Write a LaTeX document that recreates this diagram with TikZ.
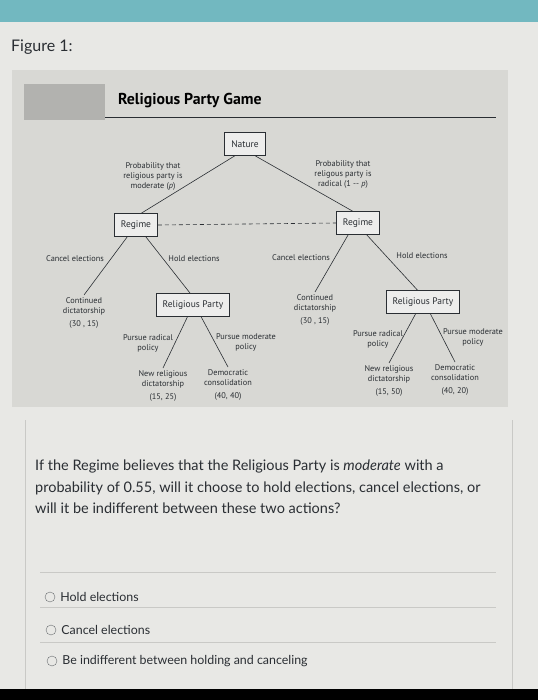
\documentclass[tikz,border=0pt]{standalone}
\usepackage{fontspec}
\setmainfont{Lato}
\newfontfamily\treefont{PT Sans}
\usepackage{tikz}
\usetikzlibrary{positioning,calc}
\definecolor{pagegrey}{HTML}{E8E8E5}
\definecolor{panelgrey}{HTML}{D8D8D4}
\definecolor{tabgrey}{HTML}{B2B2AF}
\definecolor{topteal}{HTML}{72B8C0}
\definecolor{inkgrey}{HTML}{2A2E33}
\definecolor{rulegrey}{HTML}{C9C9C6}

\begin{document}
\begin{tikzpicture} [x=1pt, y=-1pt, every node/.style = {inner sep=0pt, text=inkgrey}]
        \tikzstyle{player}=[draw=inkgrey, thick, fill=panelgrey!45!white, inner xsep=6.5pt, minimum height=23pt, font=\treefont\fontsize{9.5}{11}\selectfont]
        \tikzstyle{move}=[align=center, font=\treefont\fontsize{8.3}{10}\selectfont]
        \tikzstyle{outcome}=[align=center, inner sep=2pt, font=\treefont\fontsize{8.3}{10}\selectfont]
        \tikzstyle{branch}=[draw=inkgrey, semithick]
        \tikzstyle{option}=[anchor=west, font=\fontsize{12.4}{14}\selectfont]
        \useasboundingbox (0,0) rectangle (538,700);
        \fill[pagegrey] (0,0) rectangle (538,700);
        \fill[topteal] (0,0) rectangle (538,22);
        \fill[black] (0,689) rectangle (538,700);
        \node[anchor=west, font=\fontsize{16}{18}\selectfont] (figlabel) at (11,47) {Figure 1:};
        \fill[panelgrey] (12,70) rectangle (508,407);
        \fill[tabgrey] (24,84) rectangle (105,120);
        \node[anchor=west, font=\treefont\bfseries\fontsize{15.8}{17}\selectfont, text=black] (title) at (118,101) {Religious Party Game};
        \draw[inkgrey, thick] (105,117.5) -- (496,117.5);

        \node[player] (nature) at (245,144) {Nature};
        \node[player] (regimeL) at (136,225) {Regime};
        \node[player] (regimeR) at (358,223) {Regime};
        \node[player] (partyL) at (193,305) {Religious Party};
        \node[player] (partyR) at (423,302) {Religious Party};

        \node[outcome, anchor=north] (contL) at (84,295) {Continued\\dictatorship\\[3pt](30 , 15)};
        \node[outcome, anchor=north] (contR) at (315,292) {Continued\\dictatorship\\[3pt](30 , 15)};
        \node[outcome, anchor=north] (newL) at (163,368) {New religious\\dictatorship\\[3pt](15, 25)};
        \node[outcome, anchor=north] (demL) at (228,367) {Democratic\\consolidation\\[3pt](40, 40)};
        \node[outcome, anchor=north] (newR) at (389,363) {New religious\\dictatorship\\[3pt](15, 50)};
        \node[outcome, anchor=north] (demR) at (455,362) {Democratic\\consolidation\\[3pt](40, 20)};

        \node[move] (probL) at (153,176) {Probability that\\religious party is\\moderate (\textit{p})};
        \node[move] (probR) at (343,174) {Probability that\\religous party is\\radical (1 -- \textit{p})};
        \node[move] (cancelL) at (75,259) {Cancel elections};
        \node[move] (holdL) at (194,259) {Hold elections};
        \node[move] (cancelR) at (301,258) {Cancel elections};
        \node[move] (holdR) at (422,256) {Hold elections};
        \node[move] (radicalL) at (148,343) {Pursue radical\\policy};
        \node[move] (moderateL) at (246,342) {Pursue moderate\\policy};
        \node[move] (radicalR) at (378,339) {Pursue radical\\policy};
        \node[move] (moderateR) at (473,337) {Pursue moderate\\policy};

        \draw[branch] ($(nature.south)!0.5!(nature.south west)$) -- ($(regimeL.north)!0.25!(regimeL.north east)$);
        \draw[branch] ($(nature.south)!0.5!(nature.south east)$) -- ($(regimeR.north)!0.25!(regimeR.north west)$);
        \draw[branch, dash pattern=on 4pt off 3pt] (regimeL.east) -- (regimeR.west);
        \draw[branch] ($(regimeL.south)!0.4!(regimeL.south west)$) -- (contL.north);
        \draw[branch] ($(regimeL.south)!0.45!(regimeL.south east)$) -- ($(partyL.north)!0.08!(partyL.north west)$);
        \draw[branch] ($(regimeR.south)!0.45!(regimeR.south west)$) -- (contR.north);
        \draw[branch] ($(regimeR.south)!0.4!(regimeR.south east)$) -- ($(partyR.north)!0.15!(partyR.north west)$);
        \draw[branch] ($(partyL.south)!0.15!(partyL.south west)$) -- (newL.north);
        \draw[branch] ($(partyL.south)!0.22!(partyL.south east)$) -- (demL.north);
        \draw[branch] ($(partyR.south)!0.2!(partyR.south west)$) -- (newR.north);
        \draw[branch] ($(partyR.south)!0.2!(partyR.south east)$) -- (demR.north);

        \draw[rulegrey] (25,420) -- (25,689);
        \draw[rulegrey] (512,420) -- (512,689);
        \node[anchor=north west, align=left, font=\fontsize{14.5}{21.5}\selectfont] (question) at (35,460) {If the Regime believes that the Religious Party is \textit{moderate} with a\\probability of 0.55, will it choose to hold elections, cancel elections, or\\will it be indifferent between these two actions?};
        \draw[rulegrey] (40,572) -- (496,572);
        \draw[rulegrey] (40,607) -- (496,607);
        \draw[rulegrey] (40,642) -- (496,642);
        \node[draw=inkgrey!70, circle, minimum size=10pt] (radioA) at (50,597) {};
        \node[draw=inkgrey!70, circle, minimum size=10pt] (radioB) at (51,630) {};
        \node[draw=inkgrey!70, circle, minimum size=10pt] (radioC) at (52,661) {};
        \node[option, right=5pt of radioA] (hold) {Hold elections};
        \node[option, right=5pt of radioB] (cancel) {Cancel elections};
        \node[option, right=5pt of radioC] (indiff) {Be indifferent between holding and canceling};
    \end{tikzpicture}
\end{document}
